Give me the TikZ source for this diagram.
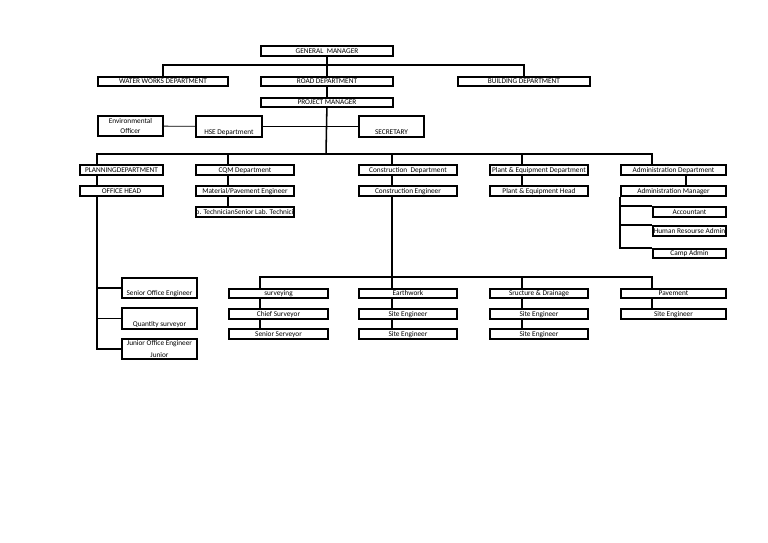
\documentclass[tikz,border=0pt]{standalone}
\usepackage{fontspec}
\setmainfont{Carlito}
\begin{document}
\begin{tikzpicture}[x=0.025cm, y=-0.025cm,
  box/.style 2 args={draw, line width=1.4pt, fill=white, anchor=north west, inner sep=0pt, align=center,
    minimum width=#1*0.025cm, minimum height=#2*0.025cm, text height=3.6pt, text depth=0.3pt,
    font=\fontsize{5.2}{8}\selectfont},
  low/.style={text height=#1, text depth=0.07cm},
  two/.style={text height={}, text depth={}, font=\fontsize{5.2}{#1}\selectfont},
  link/.style={line width=1.1pt}]
\useasboundingbox (0,0) rectangle (768,543);

% Top of the chart
\node[box={132}{10}] (gm) at (260,45) {GENERAL~~MANAGER};
\node[box={130}{9}] (ww) at (97,76) {WATER WORKS DEPARTMENT};
\node[box={132}{9}] (road) at (260,76) {ROAD DEPARTMENT};
\node[box={132}{9}] (bld) at (457,76) {BUILDING DEPARTMENT};
\node[box={132}{9}] (pm) at (260,97) {PROJECT MANAGER};
\node[box={65}{20}, two=7pt] (env) at (97,115) {Environmental\\Officer};
\node[box={66}{21}, low=0.45cm] (hse) at (195,115) {HSE Department};
\node[box={65}{21}, low=0.45cm] (sec) at (358,115) {SECRETARY};

% Departments
\node[box={83}{10}] (plan) at (79,164) {PLANNINGDEPARTMENT};
\node[box={98}{10}] (cqm) at (195,164) {CQM Department};
\node[box={98}{10}] (cons) at (358,164) {Construction~~Department};
\node[box={98}{10}] (plant) at (489,164) {Plant \& Equipment Department};
\node[box={105}{10}] (adm) at (620,164) {Administration Department};
\node[box={83}{10}] (ohead) at (79,185) {OFFICE HEAD};
\node[box={98}{10}] (mat) at (195,185) {Material/Pavement Engineer};
\node[box={98}{10}] (conseng) at (358,185) {Construction Engineer};
\node[box={98}{10}] (planthead) at (489,185) {Plant \& Equipment Head};
\node[box={105}{10}] (admmgr) at (620,185) {Administration Manager};
\node[box={98}{10}, path picture={\node[anchor=center, draw=none, fill=none, inner sep=0pt, minimum width=0pt, minimum height=0pt]
  at (path picture bounding box.center) {Lab. TechnicianSenior Lab. Technician};}] (lab) at (195,206) {};
\node[box={73}{10}] (acct) at (652,206) {Accountant};
\node[box={73}{10}] (hr) at (652,225) {Human Resourse Admin};
\node[box={73}{9}] (camp) at (652,248) {Camp Admin};

% Planning staff
\node[box={75}{20}, low=0.43cm] (soe) at (121,277) {Senior Office Engineer};
\node[box={75}{21}, low=0.45cm] (qs) at (121,307) {Quantity surveyor};
\node[box={75}{20}, two=8.5pt] (joe) at (121,338) {Junior Office Engineer\\Junior};

% Site sections
\node[box={99}{9}] (surv) at (228,288) {surveying};
\node[box={98}{9}] (earth) at (358,288) {Earthwork};
\node[box={98}{9}] (struct) at (489,288) {Sructure \& Drainage};
\node[box={105}{9}] (pave) at (620,288) {Pavement};
\node[box={99}{10}] (chief) at (228,308) {Chief Surveyor};
\node[box={98}{10}] (site1) at (358,308) {Site Engineer};
\node[box={98}{10}] (site2) at (489,308) {Site Engineer};
\node[box={105}{10}] (site3) at (620,308) {Site Engineer};
\node[box={99}{10}] (senior) at (228,328) {Senior Serveyor};
\node[box={98}{10}] (site4) at (358,328) {Site Engineer};
\node[box={98}{10}] (site5) at (489,328) {Site Engineer};

% Bars and columns
\coordinate (topbar) at (326,65);
\coordinate (deptbar) at (326,154);
\coordinate (sitebar) at (392,277);
\coordinate (colA) at (97,0);
\coordinate (colB) at (228,0);
\coordinate (colC) at (392,0);
\coordinate (colD) at (522,0);
\coordinate (colE) at (652,0);
\coordinate (colF) at (686,0);
\coordinate (colS) at (260,0);

\draw[link] (gm) -- (road);
\draw[link] (ww.north) |- (topbar) -| (bld.north);
\draw[link] (road) -- (pm);
\draw[link] (pm) -- (deptbar);
\draw[line width=0.6pt] (env) -- (hse);
\draw[link] (hse) -- (sec);

\draw[link] (plan.north -| colA) |- (deptbar) -| (adm.north -| colE);
\draw[link] (deptbar -| colB) -- (cqm.north -| colB);
\draw[link] (deptbar -| colC) -- (cons.north -| colC);
\draw[link] (deptbar -| colD) -- (plant.north -| colD);

\draw[link] (plan.south -| colA) -- (ohead.north -| colA);
\draw[link] (ohead.south -| colA) |- (joe.west);
\draw[link] (colA |- soe.west) -- (soe.west);
\draw[link] (colA |- qs.west) -- (qs.west);

\draw[link] (cqm.south -| colB) -- (mat.north -| colB);
\draw[link] (mat.south -| colB) -- (lab.north -| colB);
\draw[link] (plant.south -| colD) -- (planthead.north -| colD);
\draw[link] (adm.south -| colF) -- (admmgr.north -| colF);
\draw[link] (admmgr.south west) |- (camp.north west);
\draw[link] (admmgr.south west |- acct.north west) -- (acct.north west);
\draw[link] (admmgr.south west |- hr.north west) -- (hr.north west);

\draw[link] (cons.south -| colC) -- (conseng.north -| colC);
\draw[link] (conseng.south -| colC) -- (sitebar);
\draw[link] (surv.north -| colS) |- (sitebar) -| (pave.north -| colE);
\draw[link] (sitebar) -- (earth.north -| colC);
\draw[link] (sitebar -| colD) -- (struct.north -| colD);
\draw[link] (surv.south -| colS) -- (chief.north -| colS);
\draw[link] (chief.south -| colS) -- (senior.north -| colS);
\draw[link] (earth.south -| colC) -- (site1.north -| colC);
\draw[link] (site1.south -| colC) -- (site4.north -| colC);
\draw[link] (struct.south -| colD) -- (site2.north -| colD);
\draw[link] (site2.south -| colD) -- (site5.north -| colD);
\draw[link] (pave.south -| colE) -- (site3.north -| colE);
\end{tikzpicture}
\end{document}
